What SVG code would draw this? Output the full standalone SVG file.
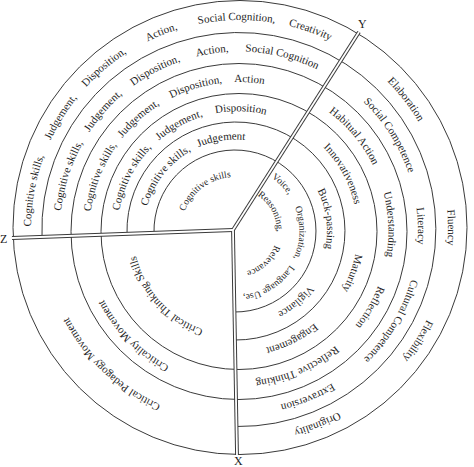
<svg xmlns="http://www.w3.org/2000/svg" xmlns:xlink="http://www.w3.org/1999/xlink" width="474" height="467" viewBox="0 0 474 467">
<style>
.ring{fill:none;stroke:#3a3a3a;stroke-width:1}
.ax{fill:none;stroke:#3a3a3a;stroke-width:3.8}
.axw{fill:none;stroke:#ffffff;stroke-width:1.8}
text{font-family:"Liberation Serif","Times New Roman",serif;font-size:11px;fill:#1e1e1e}
.sm{font-size:9.6px}
.lab{font-size:12px}
</style>
<defs>
<path id="pA1" d="M181 231 A54 54 0 1 1 289 231 A54 54 0 1 1 181 231"/>
<path id="pA1o" d="M170.5 231 A64.5 64.5 0 1 1 299.5 231 A64.5 64.5 0 1 1 170.5 231"/>
<path id="pA1i" d="M193 231 A42 42 0 1 1 277 231 A42 42 0 1 1 193 231"/>
<path id="pA2" d="M144 231 A91.5 91.5 0 1 1 327 231 A91.5 91.5 0 1 1 144 231"/>
<path id="pA3" d="M117.5 231.25 A120 120 0 1 1 357.5 231.25 A120 120 0 1 1 117.5 231.25"/>
<path id="pA4" d="M89.5 231.5 A149.5 149.5 0 1 1 388.5 231.5 A149.5 149.5 0 1 1 89.5 231.5"/>
<path id="pA5" d="M60 230.5 A179 179 0 1 1 418 230.5 A179 179 0 1 1 60 230.5"/>
<path id="pA6" d="M31 228.5 A208.5 208.5 0 1 1 448 228.5 A208.5 208.5 0 1 1 31 228.5"/>
<path id="pB3" d="M133 231 A104 104 0 1 1 341 231 A104 104 0 1 1 133 231"/>
<path id="pB4" d="M87.5 231.5 A151.5 151.5 0 1 1 390.5 231.5 A151.5 151.5 0 1 1 87.5 231.5"/>
<path id="pB6" d="M47 229 A192.5 192.5 0 1 1 432 229 A192.5 192.5 0 1 1 47 229"/>
<path id="axZ" d="M233 230 L12 238"/>
<path id="axX" d="M233 230 L237 455"/>
<path id="axY" d="M233 230 L359 32"/>
</defs>
<rect width="474" height="467" fill="#ffffff"/>
<g id="rings">
<path class="ring" d="M154 233 A81 81 0 1 1 234 312"/>
<path class="ring" d="M127 234 A109 109 0 1 1 235 340"/>
<circle class="ring" cx="239" cy="231.5" r="138"/>
<circle class="ring" cx="239" cy="231.5" r="168"/>
<path class="ring" d="M42 237 A197 197 0 1 1 236.5 426.5"/>
<circle class="ring" cx="240" cy="227.5" r="227"/>
</g>
<g id="connectors">
<use href="#axZ" class="ax"/><use href="#axX" class="ax"/><use href="#axY" class="ax"/>
<use href="#axZ" class="axw"/><use href="#axX" class="axw"/><use href="#axY" class="axw"/>
</g>
<g id="axis-labels">
<text class="lab" x="358" y="28">Y</text>
<text class="lab" x="0" y="243">Z</text>
<text class="lab" x="234" y="465">X</text>
</g>
<g id="sector-upper-left">
<text class="sm"><textPath href="#pA1" startOffset="20">Cognitive skills</textPath></text>
<text><textPath href="#pA2" startOffset="25">Cognitive skills,</textPath></text>
<text><textPath href="#pA2" startOffset="105.6">Judgement</textPath></text>
<text><textPath href="#pA3" startOffset="20.5">Cognitive skills,</textPath></text>
<text><textPath href="#pA3" startOffset="103">Judgement,</textPath></text>
<text><textPath href="#pA3" startOffset="166.4">Disposition</textPath></text>
<text><textPath href="#pA4" startOffset="20">Cognitive skills,</textPath></text>
<text><textPath href="#pA4" startOffset="101">Judgement,</textPath></text>
<text><textPath href="#pA4" startOffset="164.5">Disposition,</textPath></text>
<text><textPath href="#pA4" startOffset="230">Action</textPath></text>
<text><textPath href="#pA5" startOffset="19.5">Cognitive skills,</textPath></text>
<text><textPath href="#pA5" startOffset="104">Judgement,</textPath></text>
<text><textPath href="#pA5" startOffset="168">Disposition,</textPath></text>
<text><textPath href="#pA5" startOffset="238">Action,</textPath></text>
<text><textPath href="#pA5" startOffset="287.5">Social Cognition</textPath></text>
<text><textPath href="#pA6" startOffset="2">Cognitive skills,</textPath></text>
<text><textPath href="#pA6" startOffset="91">Judgement,</textPath></text>
<text><textPath href="#pA6" startOffset="155">Disposition,</textPath></text>
<text><textPath href="#pA6" startOffset="232">Action,</textPath></text>
<text><textPath href="#pA6" startOffset="286">Social Cognition,</textPath></text>
<text><textPath href="#pA6" startOffset="377">Creativity</textPath></text>
</g>
<g id="sector-right">
<text class="sm"><textPath href="#pA1o" startOffset="140">Voice,</textPath></text>
<text class="sm"><textPath href="#pA1o" startOffset="178">Organization,</textPath></text>
<text class="sm"><textPath href="#pA1o" startOffset="238">Language Use,</textPath></text>
<text class="sm"><textPath href="#pA1i" startOffset="89.6">Reasoning,</textPath></text>
<text class="sm"><textPath href="#pA1i" startOffset="146">Relevance</textPath></text>
<text><textPath href="#pA2" startOffset="245">Buck-passing</textPath></text>
<text><textPath href="#pA2" startOffset="345">Vigilance</textPath></text>
<text><textPath href="#pA3" startOffset="284">Innovativeness</textPath></text>
<text><textPath href="#pA3" startOffset="399.5">Maturity</textPath></text>
<text><textPath href="#pA3" startOffset="481.6">Engagement</textPath></text>
<text><textPath href="#pA4" startOffset="331">Habitual Action</textPath></text>
<text><textPath href="#pA4" startOffset="430">Understanding</textPath></text>
<text><textPath href="#pA4" startOffset="525">Reflection</textPath></text>
<text><textPath href="#pA4" startOffset="599.5">Reflective Thinking</textPath></text>
<text><textPath href="#pA5" startOffset="418.4">Social Competence</textPath></text>
<text><textPath href="#pA5" startOffset="539.3">Literacy</textPath></text>
<text><textPath href="#pA5" startOffset="611.5">Cultural Competence</textPath></text>
<text><textPath href="#pA5" startOffset="745">Extraversion</textPath></text>
<text><textPath href="#pA6" startOffset="491.5">Elaboration</textPath></text>
<text><textPath href="#pA6" startOffset="636">Fluency</textPath></text>
<text><textPath href="#pA6" startOffset="749">Flexibility</textPath></text>
<text><textPath href="#pA6" startOffset="879">Originality</textPath></text>
</g>
<g id="sector-lower-left">
<text><textPath href="#pB3" startOffset="524">Critical Thinking Skills</textPath></text>
<text><textPath href="#pB4" startOffset="786">Criticality Movement</textPath></text>
<text><textPath href="#pB6" startOffset="988">Critical Pedagogy Movement</textPath></text>
</g>
</svg>
